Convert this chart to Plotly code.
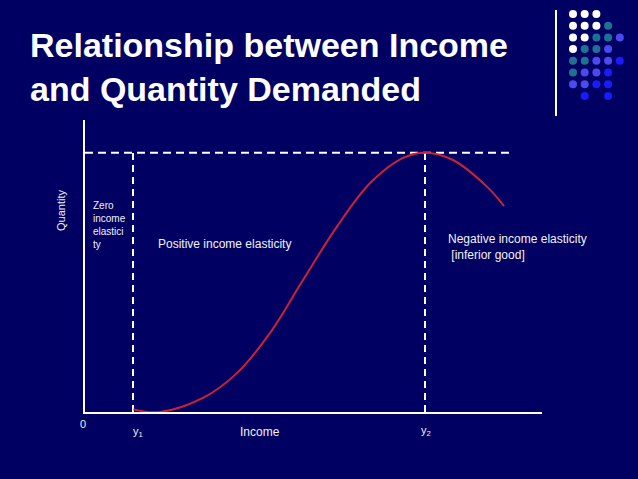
import plotly.graph_objects as go

W, H = 638, 479

# curve (income on x, quantity on y, both 0-100 of the axes)
income = [10.6, 16.4, 25.8, 33.3, 40.5, 47.7, 55.1, 62.4, 69.6, 74.4, 80.5, 88.0, 91.7]
quantity = [0.9, 0.0, 4.8, 13.4, 27.1, 45.2, 63.4, 78.4, 87.0, 88.8, 86.3, 77.1, 70.5]

y1_income = 10.5
y2_income = 74.4
peak_quantity = 88.8
dash_end = 93.4

# decorative dot grid top right (w=white, t=teal, m=mid blue, b=bright blue)
dot_rows = [
    ["w", "w", "w", "", ""],
    ["w", "w", "w", "t", ""],
    ["w", "w", "t", "t", "m"],
    ["w", "t", "t", "m", ""],
    ["t", "t", "m", "m", "b"],
    ["t", "m", "m", "b", ""],
    ["m", "m", "b", "b", ""],
    ["", "b", "", "b", ""],
]
dot_colors = {"w": "#ffffff", "t": "#1f7193", "m": "#4a4af0", "b": "#1a1aff"}

BG = "#000062"
TXT = "#f2f2f2"
FONT = "Liberation Sans, Arial, sans-serif"


def px(x):
    return x / W


def py(y):
    return 1 - y / H


fig = go.Figure()
fig.add_trace(go.Scatter(
    x=income, y=quantity, mode="lines", line=dict(color="#cc2233", width=2, shape="spline"),
    cliponaxis=False, hoverinfo="skip",
))

hdash = dict(color="white", width=2, dash="8px,5px")
vdash = dict(color="white", width=2, dash="7px,5px")
shapes = [
    dict(type="line", xref="x", yref="y", x0=0, x1=dash_end, y0=peak_quantity, y1=peak_quantity, line=hdash, layer="below"),
    dict(type="line", xref="x", yref="y", x0=y1_income, x1=y1_income, y0=0, y1=peak_quantity, line=vdash, layer="below"),
    dict(type="line", xref="x", yref="y", x0=y2_income, x1=y2_income, y0=0, y1=peak_quantity, line=vdash, layer="below"),
    dict(type="line", xref="paper", yref="paper", x0=px(556), x1=px(556), y0=py(10), y1=py(116),
         line=dict(color="white", width=2)),
]
r = 4
for i, row in enumerate(dot_rows):
    for j, c in enumerate(row):
        if not c:
            continue
        cx = 573 + 11.7 * j
        cy = 14 + 11.7 * i
        shapes.append(dict(type="circle", xref="paper", yref="paper",
                           x0=px(cx - r), x1=px(cx + r), y0=py(cy - r), y1=py(cy + r),
                           fillcolor=dot_colors[c], line=dict(width=0)))

ann = [
    dict(text="0", xref="paper", yref="paper", x=px(83), y=py(424), size=11),
    dict(text="y<sub>1</sub>", xref="x", yref="paper", x=y1_income, y=py(432), size=11, xshift=5),
    dict(text="y<sub>2</sub>", xref="x", yref="paper", x=y2_income, y=py(431), size=11, xshift=1),
    dict(text="Income", xref="paper", yref="paper", x=px(260), y=py(432), size=12),
    dict(text="Quantity", xref="paper", yref="paper", x=px(61), y=py(211), size=11, textangle=-90),
    dict(text="Zero<br>income<br>elastici<br>ty", xref="paper", yref="paper", x=px(91), y=py(225),
         size=10, xanchor="left", align="left"),
    dict(text="Positive income elasticity", xref="paper", yref="paper", x=px(224), y=py(244), size=12),
    dict(text="Negative income elasticity<br>\u00a0[inferior good]", xref="paper", yref="paper",
         x=px(446), y=py(247), size=12, xanchor="left", align="left"),
]
annotations = []
for a in ann:
    size = a.pop("size")
    a.setdefault("xanchor", "center")
    a.setdefault("yanchor", "middle")
    annotations.append(dict(showarrow=False, font=dict(family=FONT, size=size, color=TXT), **a))

axis = dict(showline=True, linecolor="white", linewidth=2, showgrid=False, zeroline=False,
            showticklabels=False, ticks="", range=[0, 100], fixedrange=True)

fig.update_layout(
    width=W, height=H,
    margin=dict(l=0, r=0, t=0, b=0),
    paper_bgcolor=BG, plot_bgcolor="rgba(0,0,0,0)",
    showlegend=False,
    title=dict(text="<b>Relationship between Income<br>and Quantity Demanded</b>",
               font=dict(family=FONT, size=34, color="white"),
               x=px(30), xanchor="left", xref="container",
               y=py(57), yanchor="top", yref="container"),
    xaxis=dict(domain=[px(85), px(542)], **axis),
    yaxis=dict(domain=[py(412), py(120)], **axis),
    shapes=shapes,
    annotations=annotations,
)

# the page's default body margin would push the slide 8px off the window
fig.write_html("out.html", post_script="document.body.style.margin='0';",
               config={"displayModeBar": False})
